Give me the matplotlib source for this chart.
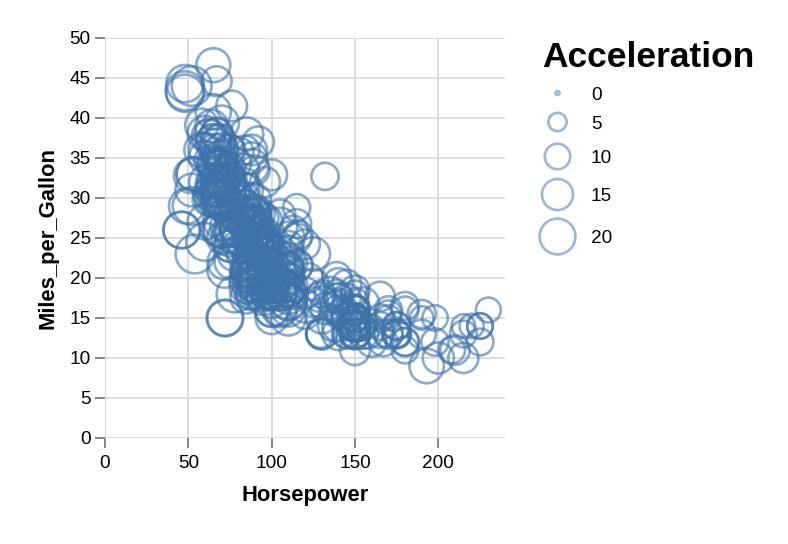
import numpy as np
import matplotlib
matplotlib.use("Agg")
import matplotlib.pyplot as plt

plt.rcParams['font.family'] = ['Liberation Sans', 'DejaVu Sans']

# ---------------- data (cars: Horsepower, Miles_per_Gallon, Acceleration) -------------
horsepower = [
    130, 165, 150, 150, 140, 198, 220, 215, 225, 190,
    170, 160, 150, 225, 95, 95, 97, 85, 88, 46,
    87, 90, 95, 113, 90, 215, 200, 210, 193, 88,
    90, 95, 100, 105, 100, 88, 100, 165, 175, 153,
    150, 180, 170, 175, 110, 72, 100, 88, 86, 90,
    70, 76, 65, 69, 60, 70, 95, 80, 54, 90,
    86, 165, 175, 150, 153, 150, 208, 155, 160, 190,
    97, 150, 130, 140, 150, 112, 76, 87, 69, 86,
    92, 97, 80, 88, 175, 150, 145, 137, 150, 198,
    150, 158, 150, 215, 225, 175, 105, 100, 100, 88,
    95, 46, 150, 167, 170, 180, 100, 88, 72, 94,
    90, 85, 107, 90, 145, 230, 49, 75, 91, 112,
    150, 110, 122, 180, 95, 100, 100, 67, 80, 65,
    75, 100, 110, 105, 140, 150, 150, 140, 150, 83,
    67, 78, 52, 61, 75, 75, 75, 97, 93, 67,
    95, 105, 72, 72, 170, 145, 150, 148, 110, 105,
    110, 95, 110, 110, 129, 75, 83, 100, 78, 96,
    71, 97, 97, 70, 90, 95, 88, 98, 115, 53,
    86, 81, 92, 79, 83, 140, 150, 120, 152, 100,
    105, 81, 90, 52, 60, 70, 53, 100, 78, 110,
    95, 71, 70, 75, 72, 102, 150, 88, 108, 120,
    180, 145, 130, 150, 68, 80, 58, 96, 70, 145,
    110, 145, 130, 110, 105, 100, 98, 180, 170, 190,
    149, 78, 88, 75, 89, 63, 83, 67, 78, 97,
    110, 110, 48, 66, 52, 70, 60, 110, 140, 139,
    105, 95, 85, 88, 100, 90, 105, 85, 110, 120,
    145, 165, 139, 140, 68, 95, 97, 75, 95, 105,
    85, 97, 103, 125, 115, 133, 71, 68, 115, 85,
    88, 90, 110, 130, 129, 138, 135, 155, 142, 125,
    150, 71, 65, 80, 80, 77, 125, 71, 90, 70,
    70, 65, 69, 90, 115, 115, 90, 76, 60, 70,
    65, 90, 88, 90, 90, 78, 90, 75, 92, 75,
    65, 105, 65, 48, 48, 67, 67, 67, 67, 62,
    132, 100, 88, 72, 84, 84, 92, 110, 84, 58,
    64, 60, 67, 65, 62, 68, 63, 65, 65, 74,
    75, 75, 100, 74, 80, 76, 116, 120, 110, 105,
    88, 85, 88, 88, 88, 85, 84, 90, 92, 74,
    68, 68, 63, 70, 88, 75, 70, 67, 67, 67,
    110, 85, 92, 112, 96, 84, 90, 86, 52, 84,
    79, 82,
]

miles_per_gallon = [
    18, 15, 18, 16, 17, 15, 14, 14, 14, 15,
    15, 14, 15, 14, 24, 22, 18, 21, 27, 26,
    25, 24, 25, 26, 21, 10, 10, 11, 9, 27,
    28, 25, 19, 16, 17, 19, 18, 14, 14, 14,
    14, 12, 13, 13, 18, 22, 19, 18, 23, 28,
    30, 30, 31, 35, 27, 26, 24, 25, 23, 20,
    21, 13, 14, 15, 14, 17, 11, 13, 12, 13,
    19, 15, 13, 13, 14, 18, 22, 21, 26, 22,
    28, 23, 28, 27, 13, 14, 13, 14, 15, 12,
    13, 13, 14, 13, 12, 13, 18, 16, 18, 18,
    23, 26, 11, 12, 13, 12, 18, 20, 21, 22,
    18, 19, 21, 26, 15, 16, 29, 24, 20, 19,
    15, 24, 20, 11, 20, 19, 15, 31, 26, 32,
    25, 16, 16, 18, 16, 13, 14, 14, 14, 29,
    26, 26, 31, 32, 28, 24, 26, 24, 26, 31,
    19, 18, 15, 15, 16, 15, 16, 14, 17, 16,
    15, 18, 21, 20, 13, 29, 23, 20, 23, 24,
    25, 24, 18, 29, 19, 23, 23, 22, 25, 33,
    28, 25, 25, 26, 27, 17.5, 16, 15.5, 14.5, 22,
    22, 24, 22.5, 29, 24.5, 29, 33, 20, 18, 18.5,
    17.5, 29.5, 32, 28, 26.5, 20, 13, 19, 19, 16.5,
    16.5, 13, 13, 13, 31.5, 30, 36, 25.5, 33.5, 17.5,
    17, 15.5, 15, 17.5, 20.5, 19, 18.5, 16, 15.5, 15.5,
    16, 29, 24.5, 26, 25.5, 30.5, 33.5, 30, 30.5, 22,
    21.5, 21.5, 43.1, 36.1, 32.8, 39.4, 36.1, 19.9, 19.4, 20.2,
    19.2, 20.5, 20.2, 25.1, 20.5, 19.4, 20.6, 20.8, 18.6, 18.1,
    19.2, 17.7, 18.1, 17.5, 30, 27.5, 27.2, 30.9, 21.1, 23.2,
    23.8, 23.9, 20.3, 17, 21.6, 16.2, 31.5, 29.5, 21.5, 19.8,
    22.3, 20.2, 20.6, 17, 17.6, 16.5, 18.2, 16.9, 15.5, 19.2,
    18.5, 31.9, 34.1, 35.7, 27.4, 25.4, 23, 27.2, 23.9, 34.2,
    34.5, 31.8, 37.3, 28.4, 28.8, 26.8, 33.5, 41.5, 38.1, 32.1,
    37.2, 28, 26.4, 24.3, 19.1, 34.3, 29.8, 31.3, 37, 32.2,
    46.6, 27.9, 40.8, 44.3, 43.4, 36.4, 30, 44.6, 33.8, 29.8,
    32.7, 23.7, 35, 32.4, 27.2, 26.6, 25.8, 23.5, 30, 39.1,
    39, 35.1, 32.3, 37, 37.7, 34.1, 34.7, 34.4, 29.9, 33,
    33.7, 32.4, 32.9, 31.6, 28.1, 30.7, 25.4, 24.2, 22.4, 26.6,
    20.2, 17.6, 28, 27, 34, 31, 29, 27, 24, 36,
    37, 31, 38, 36, 36, 36, 34, 38, 32, 38,
    25, 38, 26, 22, 32, 36, 27, 27, 44, 32,
    28, 31,
]

acceleration = [
    12, 11.5, 11, 12, 10.5, 10, 9, 8.5, 10, 8.5,
    10, 8, 9.5, 10, 15, 15.5, 15.5, 16, 14.5, 20.5,
    17.5, 14.5, 17.5, 12.5, 15, 14, 15, 13.5, 18.5, 14.5,
    15.5, 14, 15, 15.5, 15.5, 15.5, 15.5, 12, 11.5, 13.5,
    13, 11.5, 12, 12, 13.5, 19, 15, 14.5, 14, 14,
    19.5, 14.5, 19, 18, 19, 20.5, 15.5, 17, 23.5, 19.5,
    16.5, 12, 12, 13.5, 13, 11.5, 11, 13.5, 13.5, 12.5,
    13.5, 12.5, 14, 16, 14, 14.5, 18, 19.5, 18, 16,
    17, 14.5, 15, 16.5, 13, 11.5, 13, 14.5, 12.5, 11.5,
    12, 13, 14.5, 11, 11, 11, 16.5, 18, 16, 16.5,
    16, 21, 14, 12.5, 13, 12.5, 15, 19, 19.5, 16.5,
    13.5, 18.5, 14, 15.5, 13, 9.5, 19.5, 15.5, 14, 15.5,
    11, 14, 13.5, 11, 16.5, 17, 16, 17, 19, 16.5,
    21, 17, 17, 16.5, 14, 14.5, 13.5, 16, 15.5, 16.5,
    15.5, 14.5, 16.5, 19, 14.5, 15.5, 14, 15, 15.5, 16,
    16, 16, 21, 19.5, 11.5, 14, 14.5, 13.5, 21, 18.5,
    19, 19, 15, 13.5, 12, 16, 17, 16, 18.5, 13.5,
    16.5, 17, 14.5, 14, 17, 15, 17, 14.5, 13.5, 17.5,
    15.5, 16.9, 14.9, 17.7, 15.3, 13, 13, 13.9, 12.8, 15.4,
    14.5, 17.6, 17.6, 22.2, 22.1, 14.2, 17.4, 17.7, 21, 16.2,
    17.8, 12.2, 17, 16.4, 13.6, 15.7, 13.2, 21.9, 15.5, 16.7,
    12.1, 12, 15, 14, 18.5, 14.8, 18.6, 15.5, 16.8, 12.5,
    19, 13.7, 14.9, 16.4, 16.9, 17.7, 19, 11.1, 11.4, 12.2,
    14.5, 14.5, 16, 18.2, 15.8, 17, 15.9, 16.4, 14.1, 14.5,
    12.8, 13.5, 21.5, 14.4, 19.4, 18.6, 16.4, 15.5, 13.2, 12.8,
    19.2, 18.2, 15.8, 15.4, 17.2, 17.2, 15.8, 16.7, 18.7, 15.1,
    13.2, 13.4, 11.2, 13.7, 16.5, 14.2, 14.7, 14.5, 14.8, 16.7,
    17.6, 14.9, 15.9, 13.6, 15.7, 15.8, 14.9, 16.6, 15.4, 18.2,
    17.3, 18.2, 16.6, 15.4, 13.4, 13.2, 15.2, 14.9, 14.3, 15,
    13, 14, 15.2, 14.4, 15, 20.1, 17.4, 24.8, 22.2, 13.2,
    14.9, 19.2, 14.7, 16, 11.3, 12.9, 13.2, 14.7, 18.8, 15.5,
    16.4, 16.5, 18.1, 20.1, 18.7, 15.8, 15.5, 17.5, 15, 15.2,
    17.9, 14.4, 19.2, 21.7, 23.7, 19.9, 21.8, 13.8, 18, 15.3,
    11.4, 12.5, 15.1, 17, 15.7, 16.4, 14.4, 12.6, 12.9, 16.9,
    16.4, 16.1, 17.8, 19.4, 17.3, 16, 14.9, 16.2, 20.7, 14.2,
    14.4, 16.8, 14.8, 18.3, 20.4, 19.6, 12.6, 13.8, 15.8, 19,
    17.1, 16.6, 19.6, 18.6, 18, 16.2, 16, 18, 16.4, 15.3,
    18.2, 17.6, 14.7, 17.3, 14.5, 14.5, 16.9, 15, 15.7, 16.2,
    16.4, 17, 14.5, 14.7, 13.9, 13, 17.3, 15.6, 24.6, 11.6,
    18.6, 19.4,
]

x_ticks = [0, 50, 100, 150, 200]
y_ticks = [0, 5, 10, 15, 20, 25, 30, 35, 40, 45, 50]
legend_values = [0, 5, 10, 15, 20]

assert len(horsepower) == len(miles_per_gallon) == len(acceleration)

# ---------------- styling ----------------
W, H, DPI = 788, 544, 100
COLOR = '#3d73aa'
ALPHA = 0.6
PX = 72.0 / DPI            # points per pixel
STROKE_PX = 2.7

# size scale: Acceleration domain [0, 25] -> symbol area (px^2) [16, 1600]
def size_pt2(a):
    area_px = np.interp(np.asarray(a, dtype=float), [0, 25], [16, 1600])
    return area_px * PX * PX

fig = plt.figure(figsize=(W / DPI, H / DPI), dpi=DPI)
ax = fig.add_axes([105 / W, (H - 438) / H, 400 / W, 400 / H])

ax.scatter(horsepower, miles_per_gallon, s=size_pt2(acceleration),
           facecolors='none', edgecolors=COLOR, alpha=ALPHA,
           linewidths=STROKE_PX * PX, zorder=3, clip_on=False)

ax.set_xlim(0, 240)
ax.set_ylim(0, 50)
ax.set_xticks(x_ticks)
ax.set_yticks(y_ticks)
ax.grid(True, color='#dddddd', linewidth=2 * PX, zorder=0)
ax.set_axisbelow(True)
for sp in ax.spines.values():
    sp.set_visible(False)
ax.tick_params(axis='both', length=10 * PX, width=2 * PX, color='#888888',
               labelsize=13.7, labelcolor='black')
ax.tick_params(axis='x', pad=5)
ax.tick_params(axis='y', pad=3)

ax.set_xlabel('Horsepower', fontsize=15.8, fontweight='bold', va='baseline')
ax.xaxis.set_label_coords(0.5, -(501 - 438) / 400)
ax.set_ylabel('Miles_per_Gallon', fontsize=15.8, fontweight='bold', va='baseline')
ax.yaxis.set_label_coords((53 - 105) / 400, 0.5)

# ---------------- legend (pixel coordinates) ----------------
lax = fig.add_axes([0, 0, 1, 1], facecolor='none')
lax.set_xlim(0, W)
lax.set_ylim(H, 0)
lax.axis('off')
leg_y = [93, 122, 156.5, 194.5, 236.5]
lax.scatter([557.5] * len(legend_values), leg_y, s=size_pt2(legend_values),
            facecolors='none', edgecolors=COLOR, alpha=0.5,
            linewidths=STROKE_PX * PX, clip_on=False)
for v, y in zip(legend_values, leg_y):
    lax.text(591, y + 6.8, str(v), fontsize=13.7, ha='left', va='baseline')
lax.text(542, 67, 'Acceleration', fontsize=25.5, fontweight='bold',
         ha='left', va='baseline')

fig.savefig('out.png', dpi=DPI)
